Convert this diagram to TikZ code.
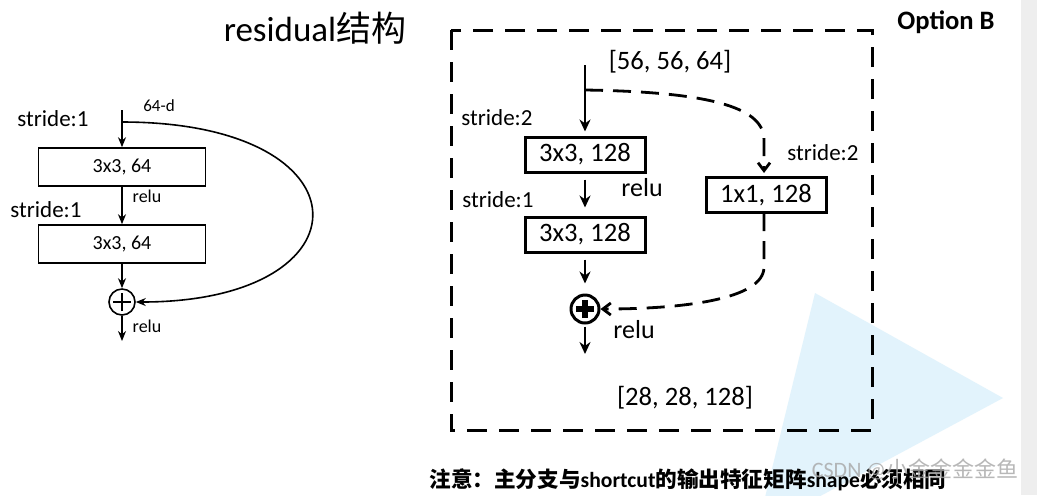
\documentclass[tikz,border=0pt]{standalone}
\usepackage{fontspec}
\setmainfont{Carlito}
\newfontfamily\cjk{Noto Sans CJK SC}
\usetikzlibrary{arrows.meta,positioning}
\definecolor{playblue}{RGB}{226,243,252}
\definecolor{stripgray}{RGB}{238,238,238}
\begin{document}
\begin{tikzpicture}[x=0.5pt, y=-0.5pt,
  every node/.style={inner sep=0pt},
  lbox/.style={draw, line width=0.8pt, minimum width=83.5pt, minimum height=19pt, font=\fontsize{10}{12}\selectfont},
  rbox/.style={draw, line width=1.5pt, minimum width=60pt, minimum height=17.5pt, font=\fontsize{13.3}{15}\selectfont},
  ltxt/.style={font=\fontsize{11.5}{13}\selectfont},
  rtxt/.style={font=\fontsize{13.3}{15}\selectfont},
  larr/.style={-{Stealth[length=5pt,width=4pt]}, line width=0.8pt},
  rarr/.style={-{Stealth[length=6pt,width=5.5pt]}, line width=1.4pt},
  darr/.style={-{Straight Barb[length=4pt,width=6pt]}, line width=1.4pt, dash pattern=on 9pt off 5pt}]
\useasboundingbox (0,0) rectangle (1037,495);
\fill[white] (0,0) rectangle (1037,495);
\fill[stripgray] (1021,0) rectangle (1037,495);
\fill[playblue] (815,293) -- (1003,398) -- (757,530) -- cycle;

% title
\node (title) at (315,28) {\fontsize{17.5}{20}\selectfont residual\cjk 结构};

% residual block, 64-d
\node[lbox] (c1) at (122,167) {3x3, 64};
\node[lbox] (c2) at (122,244) {3x3, 64};
\node[draw, circle, line width=0.8pt, minimum size=13pt] (s1) at (122,302) {};
\draw[line width=0.8pt] ([xshift=-4.5pt]s1.center) -- ([xshift=4.5pt]s1.center)
  ([yshift=-4.5pt]s1.center) -- ([yshift=4.5pt]s1.center);
\coordinate (in1) at (122,110);
\coordinate (sp1) at (122,122);
\coordinate (out1) at (122,341);
\draw[larr] (in1) -- (c1);
\draw[larr] (c1) -- (c2);
\draw[larr] (c2) -- (s1);
\draw[larr] (s1) -- (out1);
\draw[larr] (sp1) .. controls (373,122) and (373,302) .. (s1.east);
\node[ltxt] (st1) at (53,119) {stride:1};
\node[ltxt] (st2) at (46,210) {stride:1};
\node[font=\fontsize{8.5}{10}\selectfont] (dim) at (159,106) {64-d};
\node[font=\fontsize{9}{10}\selectfont] (r1) at (147,196) {relu};
\node[font=\fontsize{9}{10}\selectfont] (r2) at (147,326) {relu};

% option B, downsampling block
\draw[line width=1.5pt, dash pattern=on 10pt off 6pt] (451,30) rectangle (872,430);
\node[font=\bfseries\fontsize{13.3}{15}\selectfont] (opt) at (946,22) {Option B};
\node[rbox] (a) at (585,154.5) {3x3, 128};
\node[rbox] (b) at (585,234.5) {3x3, 128};
\node[rbox] (c) at (766,195) {1x1, 128};
\node[draw, circle, line width=1.5pt, minimum size=14pt] (s2) at (585,309) {};
\draw[line width=2.6pt] ([xshift=-4.6pt]s2.center) -- ([xshift=4.6pt]s2.center)
  ([yshift=-4.6pt]s2.center) -- ([yshift=4.6pt]s2.center);
\coordinate (in2) at (585,65);
\coordinate (sp2) at (585,90);
\coordinate (out2) at (585,354);
\draw[rarr, shorten >=2pt] (in2) -- (a);
\draw[rarr, shorten <=3pt, shorten >=4pt] (a) -- (b);
\draw[rarr, shorten <=3pt, shorten >=5pt] (b) -- (s2);
\draw[rarr, shorten <=1pt] (s2) -- (out2);
\draw[darr, shorten >=2pt] (sp2) .. controls (720,92) and (764,110) .. (764,140) -- (764,177);
\draw[darr] (764,213) -- (764,267) .. controls (764,300) and (680,309) .. (s2.east);
\node[rtxt] (shin) at (670,62) {[56, 56, 64]};
\node[rtxt] (shout) at (685,398) {[28, 28, 128]};
\node[ltxt] (st3) at (497,118) {stride:2};
\node[ltxt] (st4) at (498,200) {stride:1};
\node[ltxt] (st5) at (823,153) {stride:2};
\node[font=\fontsize{13}{15}\selectfont] (r3) at (642,188) {relu};
\node[font=\fontsize{13}{15}\selectfont] (r4) at (634,330) {relu};

% note
\node[font=\bfseries\fontsize{10.8}{12}\selectfont] (note) at (688,480)
  {\cjk 注意：主分支与\normalfont\bfseries shortcut\cjk 的输出特征矩阵\normalfont\bfseries shape\cjk 必须相同};
\node[text=gray!70, opacity=0.8, font=\fontsize{11}{12}\selectfont] (mark) at (915,469) {CSDN @\cjk 小金金金金鱼};
\end{tikzpicture}
\end{document}
